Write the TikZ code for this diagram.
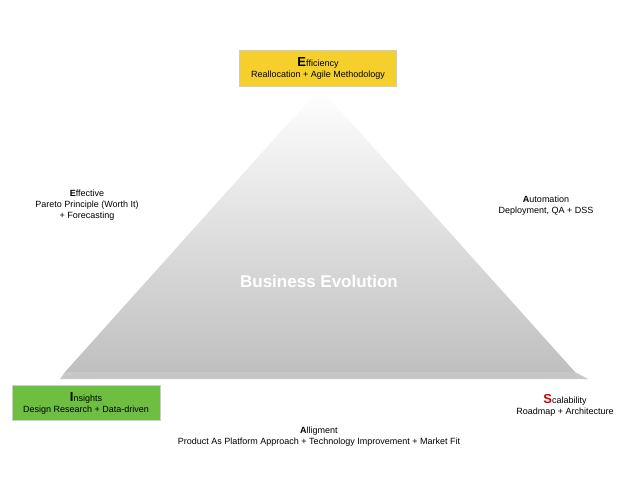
\documentclass[tikz,border=0pt]{standalone}
\usepackage{fontspec}
\setmainfont{Liberation Sans}
\begin{document}
\begin{tikzpicture}[x=1pt,y=-1pt,
  lbl/.style={align=center,font=\fontsize{9}{11}\selectfont,inner sep=1pt},
  boxy/.style={lbl,minimum width=157pt,minimum height=36pt,draw=#1!80!black,fill=#1,drop shadow}]
\useasboundingbox (0,0) rectangle (638,479);
\coordinate (apex) at (320,88);
\coordinate (bl) at (65,372);
\coordinate (br) at (575,372);
\shade[top color=white,bottom color=black!25] (apex) -- (br) -- (bl) -- cycle;
\fill[black!22] (bl) -- (br) -- (588,379) -- (60,379) -- cycle;
\node[lbl,draw=black!20,fill={rgb,255:red,245;green,208;blue,45},minimum width=157pt,minimum height=36pt] (eff) at (318,68)
  {{\fontsize{13}{13}\selectfont\textbf{E}}fficiency\\Reallocation + Agile Methodology};
\node[lbl,draw=black!20,fill={rgb,255:red,110;green,190;blue,65},minimum width=148pt,minimum height=35pt] (ins) at (86,403)
  {{\fontsize{13}{13}\selectfont\textbf{I}}nsights\\Design Research + Data-driven};
\node[lbl] (sca) at (565,405) {{\fontsize{13}{13}\selectfont\textbf{\color{red!80!black}S}}calability\\Roadmap + Architecture};
\node[lbl] (ali) at (319,437) {\textbf{A}lligment\\Product As Platform Approach + Technology Improvement + Market Fit};
\node[lbl] (efv) at (87,205) {\textbf{E}ffective\\Pareto Principle (Worth It)\\+ Forecasting};
\node[lbl] (aut) at (546,206) {\textbf{A}utomation\\Deployment, QA + DSS};
\node[text=white,font=\fontsize{17}{17}\selectfont\bfseries] (be) at (319,281) {Business Evolution};
\end{tikzpicture}
\end{document}
